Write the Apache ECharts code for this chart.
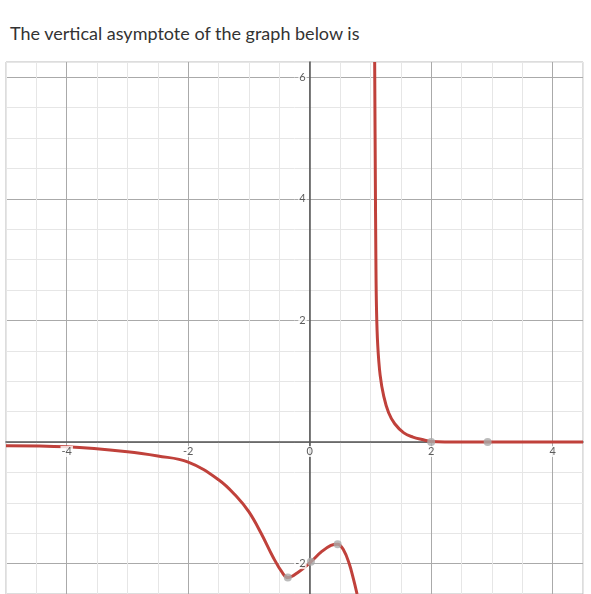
<!DOCTYPE html>
<html><head><meta charset="utf-8">
<script src="https://cdn.jsdelivr.net/npm/echarts@6/dist/echarts.min.js"></script>
<style>body{margin:0;background:#fff}#t{position:absolute;left:10px;top:22px;font:18px Lato,sans-serif;color:#333}#c{width:591px;height:594px}</style>
</head><body><div id="t">The vertical asymptote of the graph below is</div><div id="c"></div>
<script>
const leftBranch=[[-5,-0.06],[-4,-0.08],[-3,-0.16],[-2.5,-0.23],[-2,-0.33],[-1.5,-0.62],[-1.2,-0.9],[-1,-1.15],[-0.8,-1.5],[-0.6,-1.9],[-0.45,-2.15],[-0.36,-2.23],[-0.2,-2.15],[0.02,-1.97],[0.2,-1.8],[0.35,-1.7],[0.46,-1.68],[0.56,-1.78],[0.65,-2.0],[0.72,-2.25],[0.78,-2.5]];
const rightBranch=[[1.07,6.25],[1.08,4.5],[1.09,3],[1.1,2.2],[1.12,1.6],[1.16,1.1],[1.22,0.75],[1.3,0.48],[1.4,0.3],[1.55,0.15],[1.7,0.08],[1.85,0.04],[2,0.01],[2.5,0],[3,0],[4.5,0]];
const markedPoints=[[2,0],[2.93,0],[-0.36,-2.23],[0.02,-1.97],[0.46,-1.68]];
const xTickLabels=[-4,-2,0,2,4];
const yTickLabels=[6,4,2,-2];
const ch=echarts.init(document.getElementById('c'));
const lblStyle={color:'#333',fontSize:11,fontFamily:'Lato',backgroundColor:'#fff',padding:[0,1]};
ch.setOption({animation:false,
grid:{left:6,right:8,top:62,bottom:0,show:true,borderColor:'#bbb',borderWidth:1,containLabel:false,outerBoundsMode:'none'},
xAxis:{type:'value',min:-5,max:4.5,interval:0.5,axisLine:{onZero:true,lineStyle:{color:'#555',width:1.5}},axisTick:{show:false},
 axisLabel:{show:false},
 splitLine:{lineStyle:{color:['#e6e6e6','#e6e6e6','#aaa','#e6e6e6'],width:1}}},
yAxis:{type:'value',min:-2.5,max:6.25,interval:0.5,axisLine:{onZero:true,lineStyle:{color:'#555',width:1.5}},axisTick:{show:false},
 axisLabel:{show:false},
 splitLine:{lineStyle:{color:['#e6e6e6','#aaa','#e6e6e6','#e6e6e6'],width:1}}},
series:[
{type:'line',data:leftBranch,smooth:0.4,symbol:'none',lineStyle:{color:'#c0413b',width:3},clip:true},
{type:'line',data:rightBranch,smooth:0.4,symbol:'none',lineStyle:{color:'#c0413b',width:3},clip:true},
{type:'scatter',data:markedPoints,symbolSize:8,itemStyle:{color:'#aaa'},z:5},
{type:'scatter',data:xTickLabels.map(v=>[v,0]),symbolSize:0,silent:true,z:3,
 label:{show:true,position:'bottom',distance:4,formatter:p=>String(p.value[0]),...lblStyle}},
{type:'scatter',data:yTickLabels.map(v=>[0,v]),symbolSize:0,silent:true,z:3,
 label:{show:true,position:'left',distance:3,formatter:p=>String(p.value[1]),...lblStyle}}
]});
</script></body></html>
